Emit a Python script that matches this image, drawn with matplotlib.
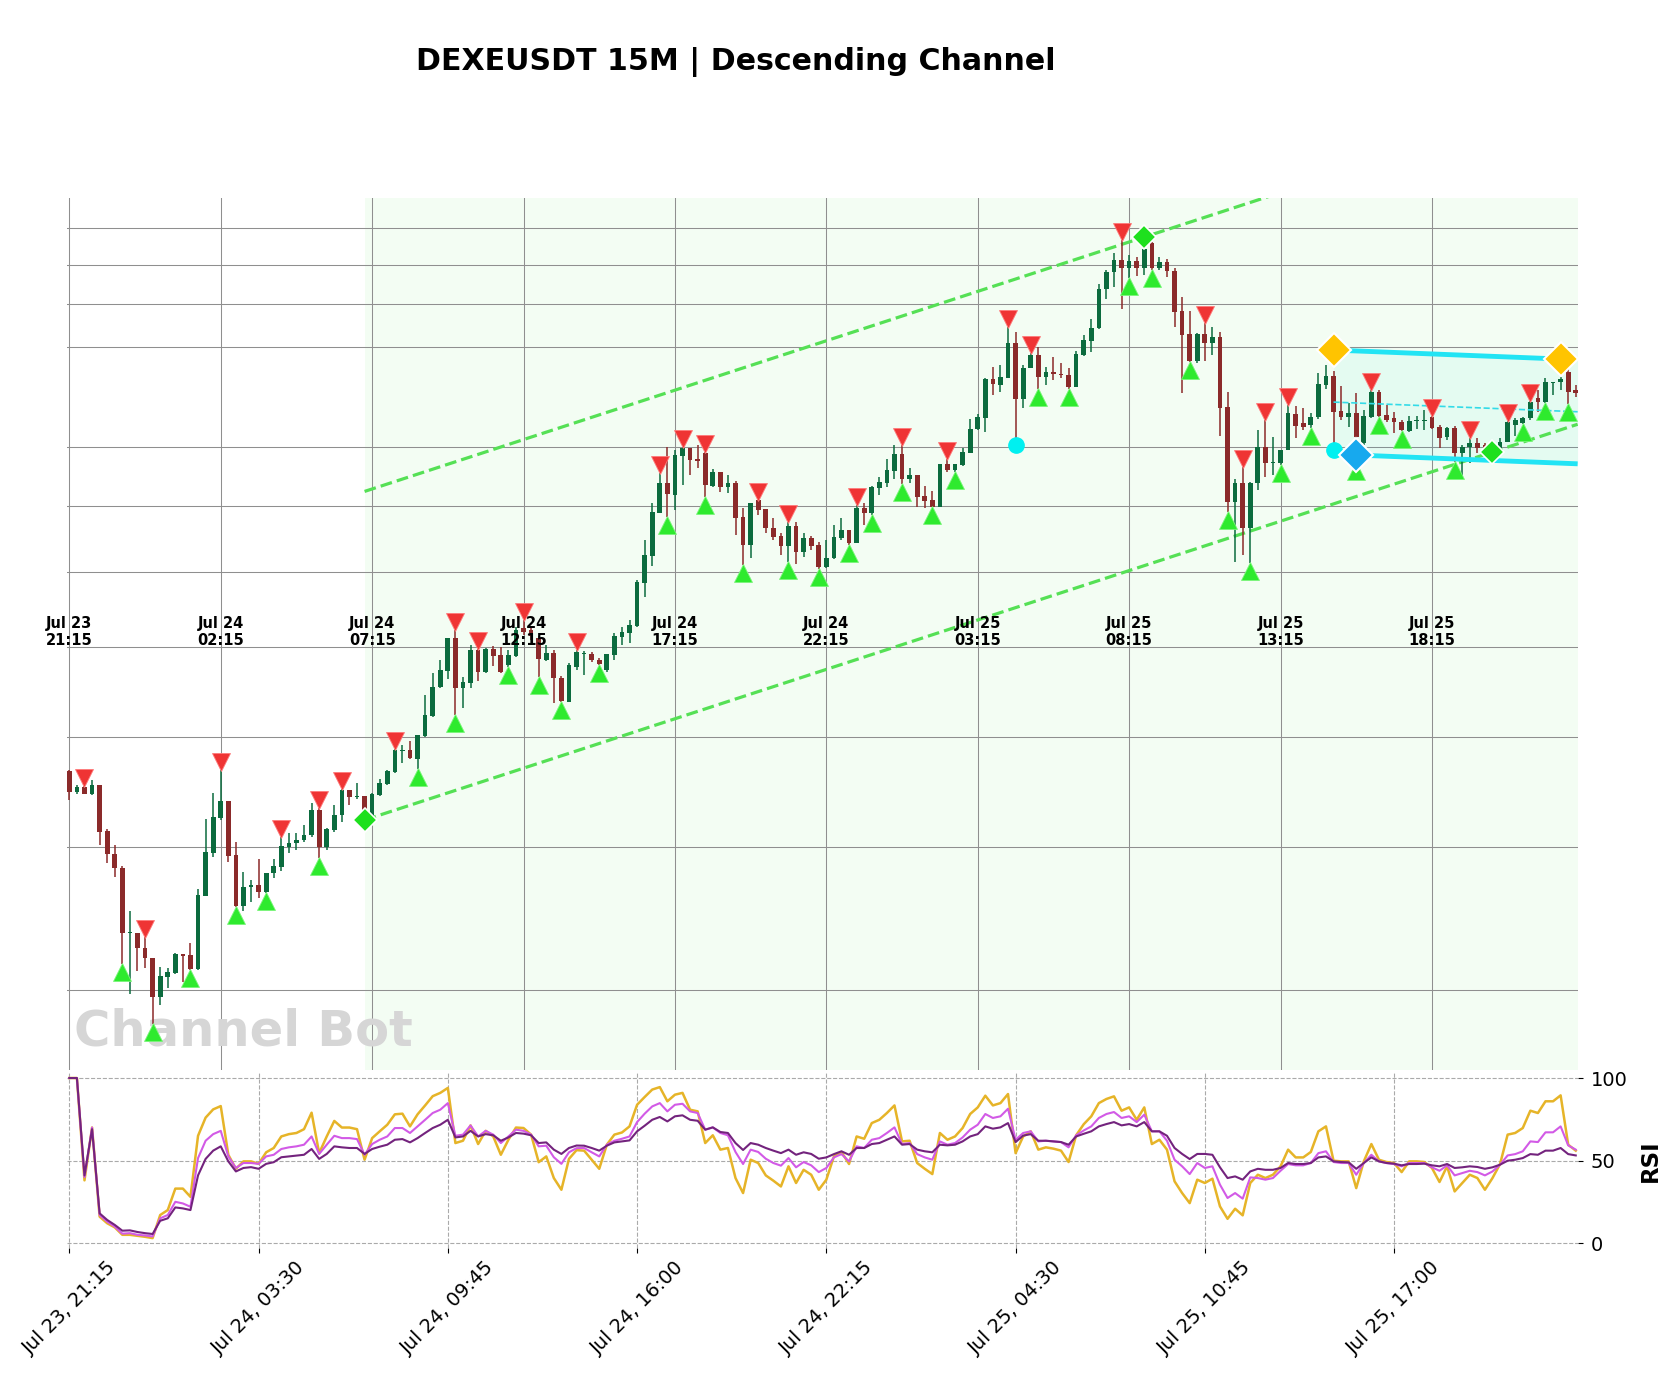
import numpy as np
import pandas as pd
import matplotlib
matplotlib.use('Agg')
from matplotlib import pyplot as plt
import matplotlib.transforms as mtransforms

# 15 minute candles, first bar Jul 23 21:15 (price in chart units, no axis labels shown)
opens = [329, 308, 313, 306, 315, 269, 246, 232, 167, 167,
         152, 142, 103, 123, 127, 146, 145, 131, 204, 247,
         282, 299, 245, 194, 213, 215, 208, 227, 233, 253,
         257, 260, 265, 290, 253, 270, 285, 310, 303, 304,
         283, 305, 316, 328, 349, 350, 341, 364, 384, 413,
         429, 462, 412, 417, 450, 428, 451, 445, 435, 444,
         472, 470, 462, 440, 447, 422, 398, 433, 446, 446,
         440, 430, 445, 463, 467, 474, 517, 544, 587, 617,
         605, 644, 652, 641, 647, 614, 628, 613, 617, 583,
         555, 600, 591, 572, 564, 554, 574, 548, 562, 555,
         533, 542, 562, 570, 557, 592, 587, 612, 617, 629,
         646, 621, 625, 604, 600, 593, 636, 630, 635, 647,
         671, 682, 721, 715, 722, 757, 701, 732, 745, 723,
         728, 726, 725, 713, 745, 759, 772, 811, 828, 840,
         832, 839, 832, 857, 832, 838, 829, 789, 766, 739,
         766, 757, 763, 693, 598, 617, 572, 617, 653, 637,
         637, 650, 686, 677, 675, 683, 715, 724, 689, 683,
         687, 657, 683, 708, 685, 682, 678, 669, 679, 679,
         683, 673, 663, 672, 647, 653, 657, 655, 651, 652,
         658, 675, 677, 682, 702, 698, 717, 718, 728, 710]
highs = [330, 315, 314, 320, 315, 271, 255, 234, 189, 167,
         163, 142, 133, 132, 147, 146, 157, 211, 281, 307,
         330, 299, 258, 228, 220, 241, 227, 241, 263, 267,
         267, 275, 297, 292, 272, 295, 311, 310, 317, 304,
         307, 321, 330, 351, 355, 359, 365, 405, 427, 440,
         462, 470, 423, 455, 451, 452, 454, 453, 450, 473,
         480, 472, 464, 455, 450, 424, 437, 450, 449, 448,
         442, 446, 467, 473, 480, 520, 560, 597, 627, 653,
         650, 653, 652, 655, 648, 631, 628, 625, 619, 592,
         597, 600, 591, 582, 567, 578, 578, 567, 564, 558,
         560, 575, 582, 570, 595, 597, 614, 623, 641, 655,
         655, 632, 625, 614, 609, 636, 641, 636, 652, 681,
         686, 722, 733, 735, 773, 768, 735, 747, 753, 733,
         743, 737, 732, 749, 765, 781, 816, 830, 847, 860,
         845, 843, 853, 858, 843, 841, 832, 803, 789, 767,
         777, 773, 768, 708, 621, 633, 618, 670, 680, 663,
         650, 695, 694, 692, 687, 727, 735, 729, 714, 697,
         707, 690, 710, 710, 695, 688, 680, 684, 684, 690,
         684, 675, 673, 674, 655, 662, 662, 657, 659, 662,
         679, 682, 683, 699, 710, 722, 718, 723, 732, 715]
lows = [300, 306, 306, 305, 255, 237, 223, 136, 106, 129,
        132, 76, 95, 112, 126, 118, 130, 130, 204, 243,
        280, 238, 193, 189, 198, 202, 207, 222, 229, 247,
        250, 258, 263, 242, 250, 268, 278, 295, 301, 289,
        283, 304, 315, 327, 337, 341, 331, 363, 383, 412,
        421, 385, 392, 412, 419, 427, 434, 427, 433, 443,
        465, 460, 423, 439, 397, 398, 398, 430, 425, 438,
        435, 428, 440, 455, 457, 473, 503, 534, 587, 583,
        590, 615, 625, 632, 603, 613, 608, 607, 565, 535,
        542, 585, 567, 560, 545, 538, 536, 543, 550, 531,
        532, 541, 560, 555, 557, 575, 585, 605, 613, 621,
        616, 617, 593, 592, 593, 593, 628, 628, 634, 647,
        670, 668, 705, 708, 722, 655, 692, 732, 711, 715,
        720, 722, 711, 713, 744, 748, 771, 801, 813, 791,
        822, 824, 825, 830, 830, 823, 773, 707, 738, 737,
        739, 745, 664, 588, 538, 545, 537, 610, 623, 625,
        635, 650, 662, 670, 672, 681, 711, 650, 680, 673,
        637, 655, 682, 683, 678, 667, 669, 668, 671, 670,
        671, 652, 660, 638, 622, 637, 647, 648, 648, 651,
        658, 664, 676, 680, 688, 697, 705, 710, 696, 703]
closes = [308, 313, 306, 315, 268, 246, 232, 167, 168, 152,
          142, 103, 124, 128, 146, 144, 131, 205, 248, 283,
          299, 244, 194, 213, 215, 208, 227, 234, 254, 257,
          260, 265, 290, 253, 271, 285, 310, 303, 304, 290,
          306, 317, 329, 350, 350, 342, 365, 385, 413, 430,
          462, 412, 418, 450, 428, 451, 444, 428, 445, 470,
          468, 464, 441, 447, 422, 399, 435, 448, 447, 440,
          436, 446, 464, 468, 475, 518, 545, 588, 617, 606,
          645, 652, 640, 639, 615, 628, 613, 617, 582, 555,
          597, 590, 572, 563, 554, 574, 548, 562, 554, 533,
          542, 563, 570, 557, 592, 587, 613, 618, 630, 646,
          621, 625, 603, 599, 593, 636, 630, 636, 648, 671,
          683, 721, 716, 723, 757, 701, 732, 745, 723, 728,
          726, 725, 713, 746, 760, 772, 811, 828, 840, 832,
          839, 832, 851, 832, 838, 829, 788, 765, 739, 766,
          757, 763, 692, 598, 617, 572, 617, 653, 637, 638,
          650, 687, 674, 673, 683, 716, 724, 688, 683, 687,
          663, 684, 708, 684, 680, 678, 670, 679, 680, 680,
          672, 662, 672, 647, 653, 657, 652, 652, 654, 658,
          678, 680, 682, 698, 698, 718, 718, 721, 708, 707]

# three RSI lines (fast / mid / slow)
rsi_fast = [100, 100, 38, 70, 16, 12, 9.5, 5, 5, 4.4,
            3.8, 3, 17, 20, 33, 33, 28, 65, 76, 81,
            83, 53.5, 45, 49.5, 49.5, 48, 55, 57.6, 64.6, 66,
            66.7, 69, 79, 54.5, 64.6, 74, 70, 70, 69, 50.5,
            63.6, 67.7, 71.7, 78, 78.4, 70.7, 78, 83.4, 89, 91,
            94, 60.6, 62, 71.3, 60, 68, 64.6, 53.5, 62.6, 70,
            69.7, 65.7, 49, 52.5, 39.4, 32.3, 51, 56.3, 56, 50.5,
            45, 59.6, 65.7, 67, 70.7, 83.8, 88.5, 93, 94.5, 85.9,
            89.9, 91, 80.8, 79.8, 60.6, 65.3, 56.6, 57.6, 39.4, 30.3,
            50.5, 48.5, 41, 37.8, 34.3, 46.5, 36.4, 44.4, 41.4, 32.3,
            38.4, 52.5, 55.2, 47.9, 64.6, 63.2, 72.7, 74.7, 78.8, 83.4,
            61.6, 62, 48.5, 45, 41.8, 66.7, 62.6, 64.6, 69.7, 78.2,
            82.2, 89.3, 83.4, 84.8, 90.3, 54.5, 64.6, 67.7, 56.6, 58,
            57.2, 56, 49.1, 65.3, 72, 76.8, 84.8, 87.3, 88.9, 80.2,
            82.2, 74.7, 82.2, 60, 62.6, 56.6, 37.4, 30.3, 24.2, 38.4,
            36.4, 39, 22.2, 14.7, 20.8, 16.8, 36.4, 41.4, 39.4, 41.4,
            46.5, 56.6, 51.9, 51.9, 55.2, 67.7, 70.7, 49.9, 49.5, 49.5,
            33.3, 49.5, 60, 50.5, 49.1, 48.5, 43, 49.5, 49.5, 49.1,
            45.5, 37, 46.5, 31.3, 36.4, 41.4, 39.4, 32.3, 39.4, 47.9,
            65.7, 66.7, 69.7, 80.2, 78.8, 85.9, 85.9, 89.5, 59.6, 56]
rsi_mid = [100, 100, 40, 70, 17, 13, 10, 5.7, 6, 5,
           4.6, 4, 15, 17, 25, 24, 22, 51.5, 62, 66,
           68, 52.5, 45.5, 48.5, 48.5, 48, 52.5, 53.5, 57, 58,
           58.6, 59.6, 64.6, 54, 59.6, 65, 63.6, 63.6, 63, 53.5,
           60, 62.6, 64.6, 69.7, 69.7, 66.7, 70.7, 74.7, 78.8, 80.8,
           84.8, 65, 65.7, 71.3, 64.6, 68, 65.7, 60.6, 64.6, 68.7,
           68, 65.7, 58.6, 59, 52, 48, 55, 57.5, 57.6, 55,
           52.5, 59.6, 62, 63.2, 64.6, 73.3, 78.4, 82.8, 84.8, 79.8,
           83.8, 84.4, 79.8, 78.8, 68.7, 70.1, 66.7, 65.3, 55.2, 47.9,
           56.6, 55.2, 51.1, 48.5, 46.9, 51.5, 45.9, 49.1, 47.1, 43,
           45.5, 51.9, 53.9, 49.5, 58.6, 57.6, 62.6, 63.6, 66.7, 70.1,
           60, 60.6, 53.9, 51.9, 50.5, 61.6, 59.6, 60.6, 64, 68.7,
           71.7, 78.2, 75.8, 76.8, 81.4, 62.6, 66.7, 67.7, 61.6, 62,
           61.6, 61.2, 58, 65.3, 68.2, 70.7, 75.8, 78.2, 79.4, 75.8,
           76.8, 73.3, 77.8, 67.7, 67.7, 62, 50.5, 46.5, 41.8, 48.5,
           45.5, 46.5, 35.4, 27.3, 30.3, 26.9, 39.8, 39.4, 38.4, 39.4,
           43.8, 47.9, 47.1, 47.1, 48.5, 54.5, 55.6, 49.1, 48.5, 48.5,
           41.4, 48.5, 53.5, 49.5, 48.5, 47.9, 46.5, 48.5, 48.5, 48.5,
           45.9, 43.8, 47.1, 41, 42.4, 43.8, 43, 41, 43.4, 47.5,
           53.1, 53.9, 55.6, 61.6, 61.2, 67.1, 67.1, 70.7, 59.2, 56.6]
rsi_slow = [100, 100, 41, 69, 18, 14, 11, 7.5, 7.7, 6.7,
            6, 5.5, 13.5, 15, 21.6, 21, 20, 41, 51, 56,
            58.6, 49.5, 43.4, 45.5, 46, 45, 48, 49, 52, 52.5,
            53, 53.5, 57, 51, 54, 58.6, 58, 57.6, 57.6, 54,
            57, 58.4, 59.6, 62.6, 63, 61, 63.6, 66.7, 69.7, 71.7,
            74.7, 64, 64.6, 68, 64.6, 66, 65.3, 62, 64, 66.7,
            66.3, 65.3, 60.6, 61, 56.6, 54, 57.6, 59.1, 59, 57.6,
            56, 59, 61, 61.6, 62.2, 67.7, 71.1, 74.7, 76.4, 73.7,
            76.8, 77.4, 74.7, 74.1, 68.7, 70.1, 67.3, 66.7, 60.6, 56.4,
            60.6, 59.6, 57.6, 56, 54.5, 56.6, 53.5, 55, 54, 51.1,
            51.9, 53.9, 55.6, 53.5, 57.6, 57.6, 60, 60.6, 62.6, 64.6,
            59.6, 60, 56.6, 55.6, 55, 59.6, 59.2, 59.6, 61.6, 64.6,
            66, 70.7, 69.3, 70.1, 72.7, 61.2, 65.1, 66, 62, 62,
            61.6, 61.2, 59.6, 64.6, 66.2, 67.7, 70.7, 72.1, 73.3, 71.3,
            72.1, 70.7, 73.3, 67.7, 67.7, 65, 57.6, 54, 50.9, 54,
            54, 53.5, 45.9, 39.4, 40.4, 38.4, 43.4, 45, 44.4, 44.4,
            45.5, 48.5, 47.9, 47.9, 48.5, 51.9, 52.5, 49.5, 49.1, 48.9,
            45, 48.5, 51.9, 49.5, 48.5, 48.1, 47.1, 47.9, 47.9, 48.1,
            47.1, 46.5, 47.9, 45.5, 45.9, 46.5, 46.1, 45, 45.9, 47.5,
            49.9, 50.5, 51.5, 53.9, 53.5, 56, 56, 57.6, 53.9, 53.1]

# swing points
swing_highs = [2, 10, 20, 28, 33, 36, 43, 51, 54, 60, 67, 78, 81, 84, 91, 95, 104,
               110, 116, 124, 127, 139, 150, 155, 158, 161, 172, 180, 185, 190, 193]
swing_lows = [7, 11, 16, 22, 26, 33, 46, 51, 58, 62, 65, 70, 79, 84, 89, 95, 99, 103,
              106, 110, 114, 117, 128, 132, 140, 143, 148, 153, 156, 160, 164, 170,
              173, 176, 183, 192, 195, 198]
touch_idx = [125, 167]
price_levels = [872, 835, 796, 753, 653, 594, 528, 453, 363, 253, 110]

# big (green) channel pivots
ch_low_idx = [39, 188]
ch_low_val = [280, 648]
ch_high_idx = 142
ch_high_val = 863
# descending (cyan) channel pivots
dc_top_idx = [167, 197]
dc_top_val = [750, 741]
dc_bot_idx = 170
dc_bot_val = 645

opens = np.array(opens); highs = np.array(highs)
lows = np.array(lows); closes = np.array(closes)
n = len(opens)
x = np.arange(n)
times = pd.date_range('2025-07-23 21:15', periods=n, freq='15min')
x_end = n - 0.75

fig = plt.figure(figsize=(16.78, 13.83), dpi=100)
ax = fig.add_axes([0.0402, 0.2263, 0.9, 0.6305])
ax2 = fig.add_axes([0.0402, 0.0976, 0.9, 0.1265])

# ---- main price panel
ax.set_xlim(-0.25, x_end)
ax.set_ylim(30, 902)
for s in ax.spines.values():
  s.set_visible(False)
ax.set_xticks(x[::20])
ax.set_yticks(price_levels)
ax.tick_params(length=0, labelbottom=False, labelleft=False)
ax.set_axisbelow(True)
ax.grid(True, color='#8f8f8f', lw=0.75)

ax.axvspan(ch_low_idx[0], x_end, color='#f3fdf3', zorder=0.1, lw=0)

up = closes >= opens
colors = np.where(up, '#0b6b3e', '#8b2a2a')
ax.vlines(x, np.minimum(lows, np.minimum(opens, closes)),
          np.maximum(highs, np.maximum(opens, closes)), colors=colors, lw=1.1, zorder=3)
body_lo = np.minimum(opens, closes)
body_h = np.maximum(np.abs(closes - opens), 1.5)
ax.bar(x, body_h, bottom=body_lo, width=0.62, color=colors, lw=0, zorder=4)

# green channel
slope = (ch_low_val[1] - ch_low_val[0]) / (ch_low_idx[1] - ch_low_idx[0])
cx = np.array([ch_low_idx[0], x_end])
ax.plot(cx, ch_low_val[0] + slope * (cx - ch_low_idx[0]), '--', color='#55e055', lw=2.3, zorder=2)
ax.plot(cx, ch_high_val + slope * (cx - ch_high_idx), '--', color='#55e055', lw=2.3, zorder=2)

# cyan channel
dslope = (dc_top_val[1] - dc_top_val[0]) / (dc_top_idx[1] - dc_top_idx[0])
dx = np.array([dc_top_idx[0], x_end])
top_line = dc_top_val[0] + dslope * (dx - dc_top_idx[0])
bot_line = dc_bot_val + dslope * (dx - dc_bot_idx)
ax.fill_between(dx, bot_line, top_line, color='#00e0e0', alpha=0.06, lw=0, zorder=1)
ax.plot(dc_top_idx, dc_top_val, color='#22e4f4', lw=3.5, zorder=5, solid_capstyle='butt')
bx = np.array([dc_bot_idx, x_end])
ax.plot(bx, dc_bot_val + dslope * (bx - dc_bot_idx), color='#22e4f4', lw=3.5, zorder=5,
        solid_capstyle='butt')
ax.plot(dx, (top_line + bot_line) / 2, '--', color='#33dbe8', lw=1.2, zorder=5)

# markers
ax.plot(swing_highs, highs[swing_highs] + 8, 'v', ms=12.5, color='#ef3434', mec='#ff7a7a',
        mew=0.6, zorder=6, ls='none')
ax.plot(swing_lows, lows[swing_lows] - 8, '^', ms=12.5, color='#2eea2e', mec='#7af57a',
        mew=0.6, zorder=6, ls='none')
ax.plot(touch_idx, lows[touch_idx], 'o', ms=11, color='#00f0f0', ls='none', zorder=6)
ax.plot(ch_low_idx + [ch_high_idx], ch_low_val + [ch_high_val], 'D', ms=12,
        color='#1ee01e', mec='white', mew=1.2, ls='none', zorder=7)
ax.plot(dc_top_idx, dc_top_val, 'D', ms=17, color='#ffc400', mec='white', mew=1.5,
        ls='none', zorder=8)
ax.plot([dc_bot_idx], [dc_bot_val], 'D', ms=17, color='#17a9ee', mec='white', mew=1.5,
        ls='none', zorder=8)

trans = mtransforms.blended_transform_factory(ax.transData, ax.transAxes)
for k in x[::20]:
  ax.text(k, 0.502, times[k].strftime('%b %d\n%H:%M'), transform=trans, ha='center',
          va='center', fontsize=10.5, fontweight='bold', zorder=9)

ax.text(0.0044, 0.0287, 'Channel Bot', transform=ax.transAxes, fontsize=35.7,
        fontweight='bold', color='#d6d6d6', va='baseline', ha='left', zorder=1)

# ---- RSI panel
ax2.plot(x, rsi_fast, color='#e6b428', lw=1.8)
ax2.plot(x, rsi_mid, color='#d25ae6', lw=1.5)
ax2.plot(x, rsi_slow, color='#73237d', lw=1.5)
ax2.set_xlim(-0.25, x_end)
ax2.set_ylim(-3, 103)
for s in ax2.spines.values():
  s.set_visible(False)
ax2.set_xticks(x[::25])
ax2.set_xticklabels([t.strftime('%b %d, %H:%M') for t in times[::25]], rotation=45,
                    fontsize=14)
ax2.yaxis.tick_right()
ax2.yaxis.set_label_position('right')
ax2.set_yticks([0, 50, 100])
ax2.tick_params(axis='y', labelsize=14, pad=6)
ax2.set_ylabel('RSI', fontsize=16.5, fontweight='bold', labelpad=8)
ax2.grid(True, ls='--', color='#aaaaaa', lw=0.8)

fig.text(0.4386, 0.955, 'DEXEUSDT 15M | Descending Channel', ha='center', va='center',
         fontsize=21.6, fontweight='bold')

fig.savefig('out.png', dpi=100)
